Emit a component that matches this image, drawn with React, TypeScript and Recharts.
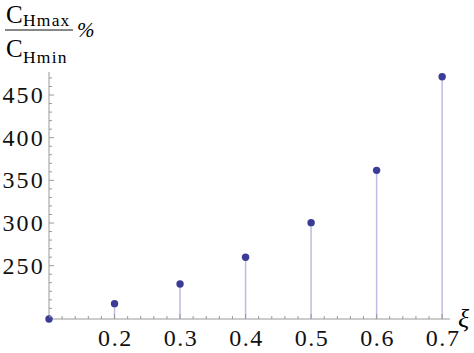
import { ComposedChart, Bar, Scatter, XAxis, YAxis } from "recharts";

const xiValues = [0.1, 0.2, 0.3, 0.4, 0.5, 0.6, 0.7];
const ratioValues = [187.5, 205.5, 228.6, 259.8, 300.4, 361.7, 471.4];

const xMajorTicks = [0.2, 0.3, 0.4, 0.5, 0.6, 0.7];
const xMinorTicks = [
  0.12, 0.14, 0.16, 0.18, 0.22, 0.24, 0.26, 0.28, 0.32, 0.34, 0.36, 0.38,
  0.42, 0.44, 0.46, 0.48, 0.52, 0.54, 0.56, 0.58, 0.62, 0.64, 0.66, 0.68,
];
const yMajorTicks = [250, 300, 350, 400, 450];
const yMinorTicks = [
  190, 200, 210, 220, 230, 240, 260, 270, 280, 290, 310, 320, 330, 340, 360,
  370, 380, 390, 410, 420, 430, 440, 460, 470,
];

const data = xiValues.map((xi, i) => ({ xi, ratio: ratioValues[i] }));

const FONT = "Liberation Serif, Times New Roman, serif";
const AXIS = "#9a9a9a";
const DOT = "#3b3b98";
const STEM = "#bdbde3";

const isMajor = (list: number[], v: number) =>
  list.some((t) => Math.abs(t - v) < 1e-9);

function XTick(props: any) {
  const { x, y, payload } = props;
  const major = isMajor(xMajorTicks, payload.value);
  return (
    <g>
      <line x1={x} x2={x} y1={y} y2={y - (major ? 5 : 3)} stroke={AXIS} />
      {major && (
        <text
          x={x + 1}
          y={y + 27}
          textAnchor="middle"
          style={{ fontFamily: FONT, fontSize: 24, letterSpacing: 1.6 }}
          fill="#111"
        >
          {payload.value.toFixed(1)}
        </text>
      )}
    </g>
  );
}

function YTick(props: any) {
  const { x, y, payload } = props;
  const major = isMajor(yMajorTicks, payload.value);
  return (
    <g>
      <line x1={x} x2={x + (major ? 5 : 3)} y1={y} y2={y} stroke={AXIS} />
      {major && (
        <text
          x={x - 4}
          y={y + 8}
          textAnchor="end"
          style={{ fontFamily: FONT, fontSize: 24, letterSpacing: 2.2 }}
          fill="#111"
        >
          {payload.value}
        </text>
      )}
    </g>
  );
}

export default function App() {
  const xTicks = [...xMinorTicks, ...xMajorTicks].sort((a, b) => a - b);
  const yTicks = [...yMinorTicks, ...yMajorTicks].sort((a, b) => a - b);
  return (
    <div
      style={{
        position: "absolute",
        left: 0,
        top: 0,
        width: 474,
        height: 353,
        background: "#fff",
        fontFamily: FONT,
      }}
    >
      <ComposedChart
        width={474}
        height={353}
        data={data}
        margin={{ top: 72, right: 24, bottom: 0, left: 0 }}
      >
        <XAxis
          type="number"
          dataKey="xi"
          domain={[0.1, 0.712]}
          ticks={xTicks}
          interval={0}
          height={34}
          tickSize={0}
          tickMargin={0}
          tick={<XTick />}
          axisLine={{ stroke: AXIS }}
        />
        <YAxis
          type="number"
          domain={[187.5, 477]}
          ticks={yTicks}
          interval={0}
          width={49}
          tickSize={0}
          tickMargin={0}
          tick={<YTick />}
          axisLine={{ stroke: AXIS }}
        />
        <Bar dataKey="ratio" barSize={1.5} fill={STEM} isAnimationActive={false} />
        <Scatter
          dataKey="ratio"
          fill={DOT}
          isAnimationActive={false}
          shape={(p: any) => <circle cx={p.cx} cy={p.cy} r={3.7} fill={DOT} />}
        />
      </ComposedChart>
      <svg
        width={474}
        height={353}
        style={{ position: "absolute", left: 0, top: 0, pointerEvents: "none", fontFamily: FONT }}
      >
        <text x={6} y={23} fontSize={25}>C</text>
        <text x={23} y={25.5} fontSize={17.5} letterSpacing={1.2}>Hmax</text>
        <line x1={5} x2={73} y1={30} y2={30} stroke="#111" strokeWidth={1} />
        <text x={77} y={37} fontSize={21} fontStyle="italic">%</text>
        <text x={6} y={57} fontSize={25}>C</text>
        <text x={23} y={63} fontSize={17.5} letterSpacing={1.2}>Hmin</text>
        <text x={458} y={327} fontSize={26} fontStyle="italic">ξ</text>
      </svg>
    </div>
  );
}
